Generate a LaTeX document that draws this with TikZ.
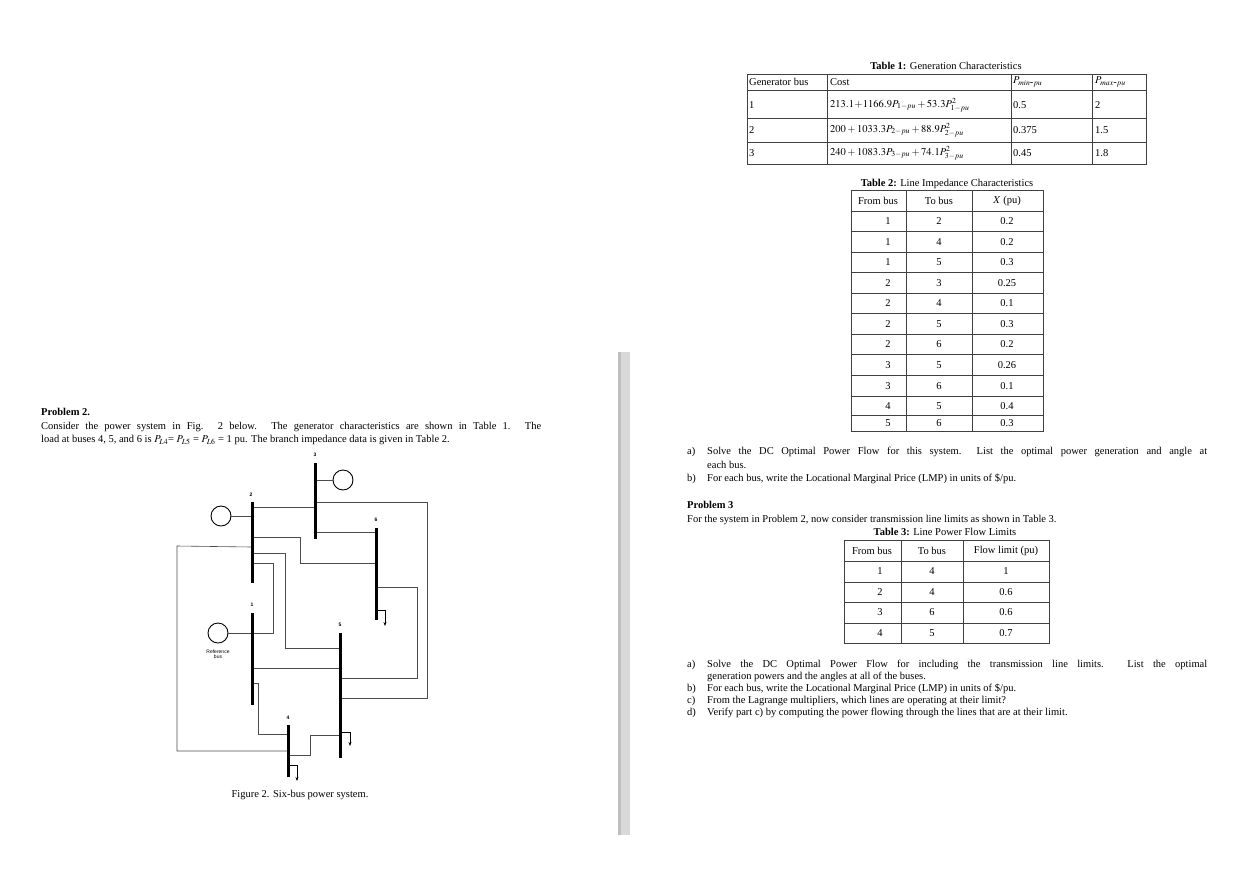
\documentclass[tikz,border=0pt]{standalone}
\usepackage{mathptmx}
\usepackage{fontspec}
\setmainfont{Liberation Serif}
\setsansfont{Liberation Sans}
\usetikzlibrary{arrows.meta}
\begin{document}
\begin{tikzpicture}[x=1pt,y=-1pt,
  txt/.style={anchor=west,inner sep=0pt,font=\fontsize{10.5}{12}\selectfont},
  ctxt/.style={inner sep=0pt,font=\fontsize{10.5}{12}\selectfont},
  ttl/.style={inner sep=0pt,font=\fontsize{10.5}{12}\selectfont},
  grid/.style={line width=0.7pt,draw=black!75},
  bus/.style={line width=3pt},
  ln/.style={line width=0.6pt,draw=black!70},
  gen/.style={circle,draw,line width=0.9pt,minimum size=20pt,inner sep=0pt},
  busno/.style={inner sep=0pt,font=\sffamily\bfseries\fontsize{5}{6}\selectfont},
  load/.style={line width=0.6pt,-{Stealth[length=4pt,width=3pt]}}]
\useasboundingbox (0,0) rectangle (1255,868);
% grey bar
\fill[black!15] (618,352) rectangle (630,835);
\fill[black!25] (618,352) rectangle (621,835);
% ---------- Problem 2 text
\node[txt,font=\bfseries\fontsize{10.5}{12}\selectfont] (p2) at (41,412) {Problem 2.};
\node[txt] (p2a) at (41,427) {\hbox to 500pt{Consider the power system in Fig. 2 below. The generator characteristics are shown in Table 1. The}};
\node[txt] (p2b) at (41,440) {load at buses 4, 5, and 6 is $P_{L4}$= $P_{L5}$ = $P_{L6}$ = 1 pu. The branch impedance data is given in Table 2.};
% ---------- figure
\coordinate (b3t) at (315,463); \coordinate (b3b) at (315,539);
\coordinate (b2t) at (252,502); \coordinate (b2b) at (252,583);
\coordinate (b6t) at (376,528); \coordinate (b6b) at (376,620);
\coordinate (b1t) at (252,613); \coordinate (b1b) at (252,705);
\coordinate (b5t) at (340,633); \coordinate (b5b) at (340,758);
\coordinate (b4t) at (288,725); \coordinate (b4b) at (288,777);
\node[gen] (g3) at (343,480) {};
\node[gen] (g2) at (221,516) {};
\node[gen] (g1) at (218,633) {};
\draw[ln] (315,480) -- (g3);
\draw[ln] (252,516) -- (g2);
\draw[ln] (252,633) -- (g1);
\node[busno] (n3) at (315,455) {3};
\node[busno] (n2) at (251,495) {2};
\node[busno] (n6) at (376,520) {6};
\node[busno] (n1) at (252,605) {1};
\node[busno] (n5) at (340,625) {5};
\node[busno] (n4) at (288,718) {4};
\node[busno,font=\sffamily\fontsize{5}{5.5}\selectfont,align=center] (rb) at (218,654) {Reference\\bus};
% lines
\draw[ln] (252,507) -- (315,507);
\draw[ln] (315,502) -- (427,502) -- (427,698) -- (340,698);
\draw[ln] (315,532) -- (376,532);
\draw[ln] (252,537) -- (300,537) -- (300,563) -- (376,563);
\draw[ln] (252,553) -- (285,553) -- (285,648) -- (340,648);
\draw[ln] (252,563) -- (273,563) -- (273,633) -- (252,633);
\draw[ln] (252,547) -- (177,546) -- (177,751) -- (288,751);
\draw[ln] (376,587) -- (417,587) -- (417,678) -- (340,678);
\draw[ln] (252,668) -- (340,668);
\draw[ln] (252,683) -- (258,683) -- (258,734) -- (288,734);
\draw[ln] (288,755) -- (310,755) -- (310,735) -- (340,735);
\draw[load] (376,610) -- (385,610) -- (385,626);
\draw[load] (340,732) -- (350,732) -- (350,746);
\draw[load] (288,765) -- (297,765) -- (297,781);
% buses
\draw[bus] (b3t) -- (b3b);
\draw[bus] (b2t) -- (b2b);
\draw[bus] (b6t) -- (b6b);
\draw[bus] (b1t) -- (b1b);
\draw[bus] (b5t) -- (b5b);
\draw[bus] (b4t) -- (b4b);
\node[ctxt] (cap) at (300,795) {Figure 2. Six-bus power system.};
% ---------- Table 1
\node[ttl] (t1) at (946,66) {\textbf{Table 1:} Generation Characteristics};
\draw[grid] (747,74) rectangle (1146,164);
\foreach \y in {90,118,142} \draw[grid] (747,\y) -- (1146,\y);
\foreach \x in {827,1011,1092} \draw[grid] (\x,74) -- (\x,164);
\node[txt] (h11) at (749,82) {Generator bus};
\node[txt] (h12) at (830,82) {Cost};
\node[txt] (h13) at (1013,82) {$P_{min\mbox{-}pu}$};
\node[txt] (h14) at (1095,82) {$P_{max\mbox{-}pu}$};
\node[txt] (r11) at (749,105) {1};
\node[txt] (r12) at (830,105) {$213.1\!+\!1166.9P_{1-pu}+53.3P_{1-pu}^2$};
\node[txt] (r13) at (1013,105) {0.5};
\node[txt] (r14) at (1095,105) {2};
\node[txt] (r21) at (749,130) {2};
\node[txt] (r22) at (830,130) {$200+1033.3P_{2-pu}+88.9P_{2-pu}^2$};
\node[txt] (r23) at (1013,130) {0.375};
\node[txt] (r24) at (1095,130) {1.5};
\node[txt] (r31) at (749,153) {3};
\node[txt] (r32) at (830,153) {$240+1083.3P_{3-pu}+74.1P_{3-pu}^2$};
\node[txt] (r33) at (1013,153) {0.45};
\node[txt] (r34) at (1095,153) {1.8};
% ---------- Table 2
\node[ttl] (t2) at (947,184) {\textbf{Table 2:} Line Impedance Characteristics};
\draw[grid] (851,190) rectangle (1043,431);
\foreach \y in {211,231,252,272,293,313,334,354,375,396,415} \draw[grid] (851,\y) -- (1043,\y);
\foreach \x in {906,972} \draw[grid] (\x,190) -- (\x,431);
\node[ctxt] (h21) at (878,201) {From bus};
\node[ctxt] (h22) at (939,201) {To bus};
\node[ctxt] (h23) at (1007,201) {$X$ (pu)};
\foreach \a/\b/\c/\y in {1/2/0.2/221,1/4/0.2/242,1/5/0.3/262,2/3/0.25/283,2/4/0.1/303,2/5/0.3/324,2/6/0.2/344,3/5/0.26/365,3/6/0.1/386,4/5/0.4/406,5/6/0.3/423}{
  \node[ctxt] at (888,\y) {\a};
  \node[ctxt] at (939,\y) {\b};
  \node[ctxt] at (1007,\y) {\c};
}
% ---------- right text
\node[txt] (a1) at (687,452) {a)};
\node[txt] (a1t) at (707,452) {\hbox to 500pt{Solve the DC Optimal Power Flow for this system.\ \ List the optimal power generation and angle at}};
\node[txt] (a1u) at (707,465) {each bus.};
\node[txt] (b1) at (687,479) {b)};
\node[txt] (b1t) at (707,479) {For each bus, write the Locational Marginal Price (LMP) in units of \$/pu.};
\node[txt,font=\bfseries\fontsize{10.5}{12}\selectfont] (p3) at (687,505) {Problem 3};
\node[txt] (p3a) at (687,520) {For the system in Problem 2, now consider transmission line limits as shown in Table 3.};
% ---------- Table 3
\node[ttl] (t3) at (945,532) {\textbf{Table 3:} Line Power Flow Limits};
\draw[grid] (844,540) rectangle (1049,643);
\foreach \y in {561,582,602,623} \draw[grid] (844,\y) -- (1049,\y);
\foreach \x in {901,963} \draw[grid] (\x,540) -- (\x,643);
\node[ctxt] (h31) at (872,551) {From bus};
\node[ctxt] (h32) at (932,551) {To bus};
\node[ctxt] (h33) at (1006,551) {Flow limit (pu)};
\foreach \a/\b/\c/\y in {1/4/1/571,2/4/0.6/592,3/6/0.6/612,4/5/0.7/633}{
  \node[ctxt] at (880,\y) {\a};
  \node[ctxt] at (932,\y) {\b};
  \node[ctxt] at (1006,\y) {\c};
}
% ---------- Problem 3 list
\node[txt] (q1) at (687,665) {a)};
\node[txt] (q1t) at (707,665) {\hbox to 500pt{Solve the DC Optimal Power Flow for including the transmission line limits. List the optimal}};
\node[txt] (q1u) at (707,677) {generation powers and the angles at all of the buses.};
\node[txt] (q2) at (687,689) {b)};
\node[txt] (q2t) at (707,689) {For each bus, write the Locational Marginal Price (LMP) in units of \$/pu.};
\node[txt] (q3) at (687,701) {c)};
\node[txt] (q3t) at (707,701) {From the Lagrange multipliers, which lines are operating at their limit?};
\node[txt] (q4) at (687,713) {d)};
\node[txt] (q4t) at (707,713) {Verify part c) by computing the power flowing through the lines that are at their limit.};
\end{tikzpicture}
\end{document}
